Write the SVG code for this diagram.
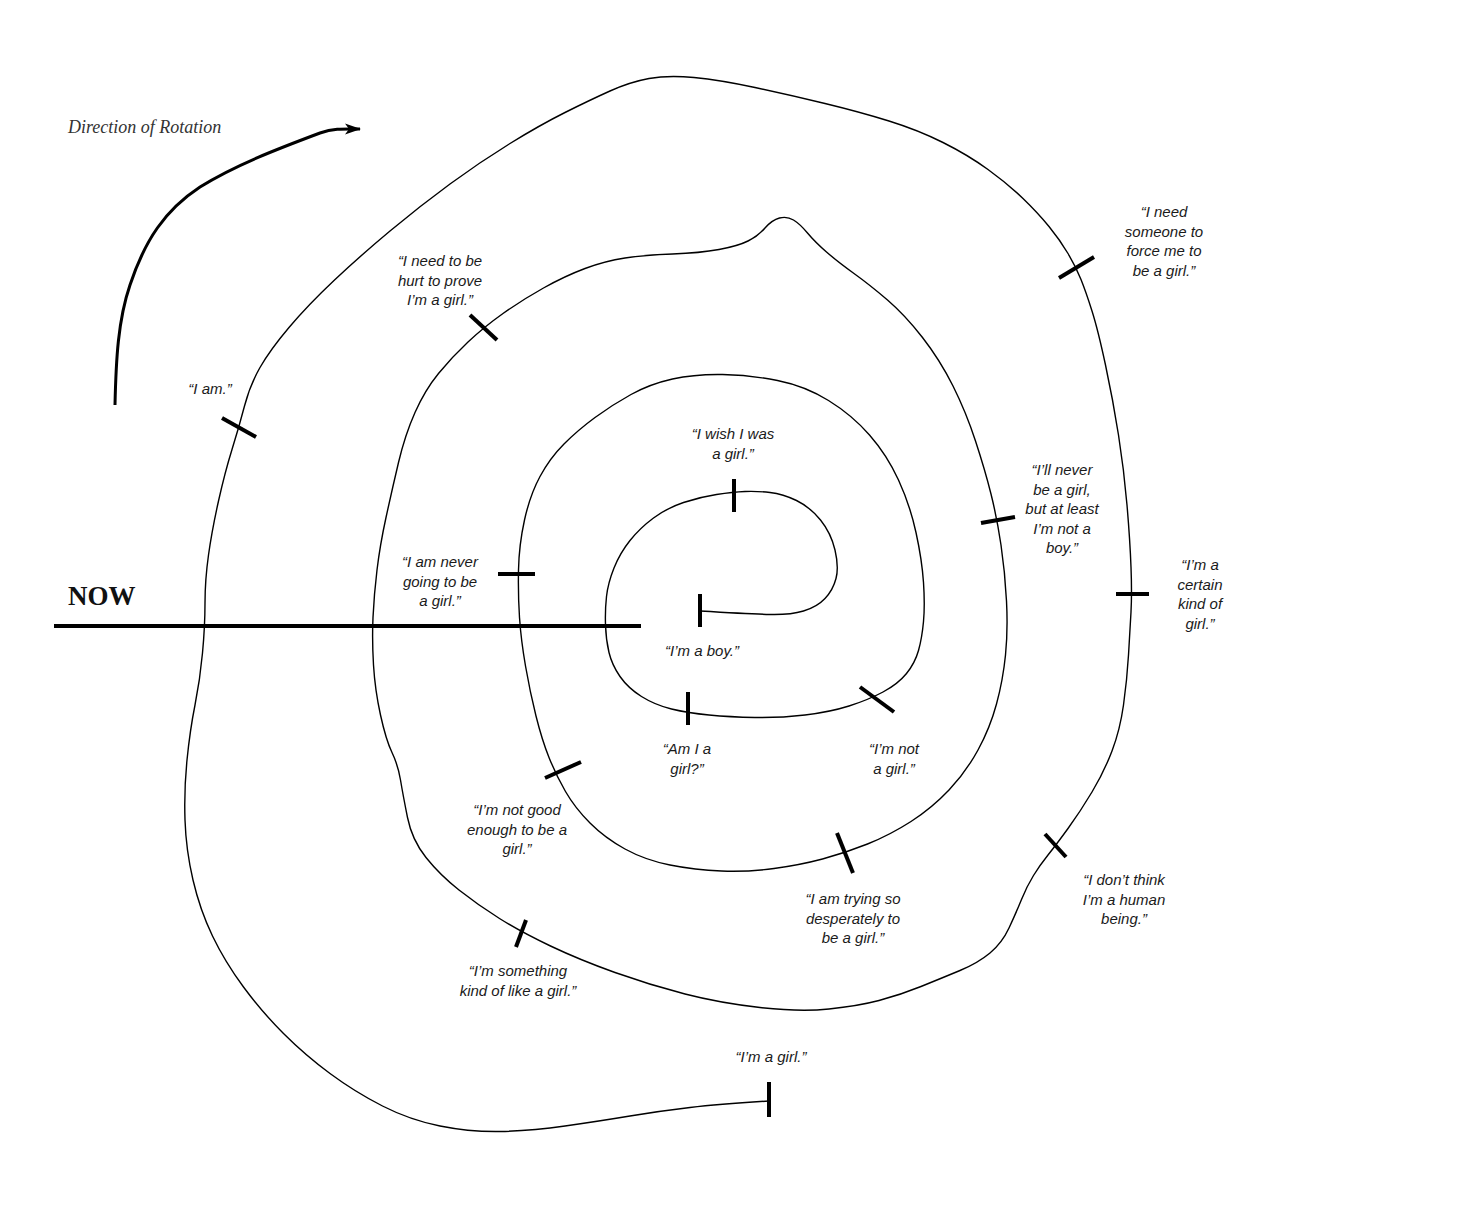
<svg xmlns="http://www.w3.org/2000/svg" width="1474" height="1222" viewBox="0 0 1474 1222">
<defs>
<style>
.lbl{font-family:"Liberation Sans",Arial,sans-serif;font-style:italic;font-size:15px;fill:#1a1a1a;text-anchor:middle}
.tick{stroke:#000;stroke-width:4;fill:none}
.spiral{stroke:#000;stroke-width:1.4;fill:none;stroke-linejoin:round;stroke-linecap:round}
</style>
<marker id="ah" viewBox="0 0 16 12" refX="15" refY="6" markerWidth="16" markerHeight="12" markerUnits="userSpaceOnUse" orient="auto">
<path d="M0,0.5 L16,6 L0,11.5 L4,6 Z" fill="#000"/>
</marker>
</defs>
<rect width="1474" height="1222" fill="#fff"/>

<g id="title">
<text x="68" y="133" font-family="'Liberation Serif','Times New Roman',serif" font-style="italic" font-size="18" fill="#333">Direction of Rotation</text>
</g>
<g id="now-label">
<text x="68" y="605" font-family="'Liberation Serif','Times New Roman',serif" font-weight="bold" font-size="27" fill="#111">NOW</text>
</g>

<g id="connectors">
<path class="spiral" d="M700,611 Q750,614 770,614.5 Q790,615 803.5,611 Q817,607 825,598.5 Q833,590 836,578.5 Q839,567 835,550 Q831,533 820.5,520 Q810,507 796.5,500.5 Q783,494 770,492.5 Q757,491 745,491.5 Q733,492 716.5,494.5 Q700,497 683.5,502.5 Q667,508 653.5,518 Q640,528 630,540.5 Q620,553 614,568 Q608,583 606.5,596.5 Q605,610 605.5,625 Q606,640 609,652.5 Q612,665 620,676.5 Q628,688 641.5,696.5 Q655,705 671.5,709 Q688,713 709,715 Q730,717 755,717.5 Q780,718 805,715 Q830,712 849,706 Q868,700 883,692 Q898,684 906.5,673.5 Q915,663 918.5,650.5 Q922,638 923.5,621.5 Q925,605 923.5,582.5 Q922,560 916,532.5 Q910,505 898.5,480 Q887,455 869.5,435 Q852,415 828.5,400.5 Q805,386 777.5,380.5 Q750,375 722.5,374.5 Q695,374 672.5,379 Q650,384 631,394.5 Q612,405 595,417.5 Q578,430 564,444 Q550,458 540,476.5 Q530,495 524.5,520 Q519,545 518.5,570 Q518,595 519.5,617.5 Q521,640 525.5,666 Q530,692 536,716 Q542,740 549,757.5 Q556,775 565.5,791.5 Q575,808 590,823 Q605,838 625,849 Q645,860 670,865 Q695,870 721.5,871 Q748,872 774,868.5 Q800,865 822.5,859 Q845,853 867.5,844 Q890,835 911,821.5 Q932,808 949,790 Q966,772 978,750 Q990,728 996.5,704 Q1003,680 1005.5,655 Q1008,630 1006.5,601 Q1005,572 1001,545 Q997,518 991,494 Q985,470 975.5,441 Q966,412 953,386 Q940,360 922.5,337.5 Q905,315 887.5,300 Q870,285 854,273.5 Q838,262 826.5,252 Q815,242 807.5,233 Q800,224 793.5,220 Q787,216 779.5,218 Q772,220 765,228 Q758,236 748,241 Q738,246 719,249.5 Q700,253 672.5,254 Q645,255 625,258 Q605,261 585,268.5 Q565,276 543.5,288 Q522,300 503,313.5 Q484,327 468,342 Q452,357 438.5,373.5 Q425,390 415,412.5 Q405,435 398.5,462.5 Q392,490 386,517.5 Q380,545 377,570 Q374,595 373,617.5 Q372,640 373.5,665 Q375,690 380.5,715 Q386,740 392,752.5 Q398,765 400.5,780 Q403,795 407.5,817.5 Q412,840 426,857.5 Q440,875 459,890 Q478,905 499.5,918.5 Q521,932 550.5,946 Q580,960 615,972.5 Q650,985 685,994 Q720,1003 760,1007.5 Q800,1012 829,1009 Q858,1006 879,1000.5 Q900,995 921,986.5 Q942,978 960,970.5 Q978,963 990,953 Q1002,943 1009,928 Q1016,913 1021.5,899.5 Q1027,886 1033.5,875.5 Q1040,865 1048,855 Q1056,845 1068,828.5 Q1080,812 1092,792 Q1104,772 1112,751 Q1120,730 1123.5,705 Q1127,680 1128.5,655 Q1130,630 1131,612 Q1132,594 1131,567 Q1130,540 1127,505 Q1124,470 1118.5,435 Q1113,400 1105.5,365 Q1098,330 1092,311 Q1086,292 1081,279.5 Q1076,267 1068,253.5 Q1060,240 1049,226.5 Q1038,213 1023,198.5 Q1008,184 988,169.5 Q968,155 943,142.5 Q918,130 889,121 Q860,112 825,103.5 Q790,95 755,87.5 Q720,80 694,77.5 Q668,75 649,78.5 Q630,82 610,91 Q590,100 565,112.5 Q540,125 510,143.5 Q480,162 450,184 Q420,206 390,231 Q360,256 334,280.5 Q308,305 289,327.5 Q270,350 260,367.5 Q250,385 244.5,406 Q239,427 232,449.5 Q225,472 218.5,501 Q212,530 208.5,555 Q205,580 205,603 Q205,626 202.5,653 Q200,680 195,705 Q190,730 187,760 Q184,790 185,820 Q186,850 193,880 Q200,910 212.5,936 Q225,962 243.5,987 Q262,1012 283.5,1033.5 Q305,1055 330,1073.5 Q355,1092 382.5,1106 Q410,1120 440,1126 Q470,1132 500,1131.5 Q530,1131 565,1126 Q600,1121 630,1116 Q660,1111 690,1107.5 Q720,1104 769,1101"/>
<line x1="54" y1="626" x2="641" y2="626" stroke="#000" stroke-width="4"/>
<path d="M115,405 C116,360 118,320 130,285 C145,240 165,210 200,187 C235,165 280,148 320,133 C335,128 345,129 360,129" fill="none" stroke="#000" stroke-width="3" marker-end="url(#ah)"/>
</g>

<g id="n-boy"><line class="tick" x1="700" y1="594" x2="700" y2="627"/><text class="lbl" x="702" y="656">“I’m a boy.”</text></g>
<g id="n-wish"><line class="tick" x1="734" y1="479" x2="734" y2="512"/><text class="lbl" x="733" y="439">“I wish I was<tspan x="733" dy="19.5">a girl.”</tspan></text></g>
<g id="n-ami"><line class="tick" x1="688" y1="692" x2="688" y2="725"/><text class="lbl" x="687" y="754">“Am I a<tspan x="687" dy="19.5">girl?”</tspan></text></g>
<g id="n-notgirl"><line class="tick" x1="860" y1="687" x2="894" y2="712"/><text class="lbl" x="894" y="754">“I’m not<tspan x="894" dy="19.5">a girl.”</tspan></text></g>
<g id="n-never"><line class="tick" x1="498" y1="574" x2="535" y2="574"/><text class="lbl" x="440" y="567">“I am never<tspan x="440" dy="19.5">going to be</tspan><tspan x="440" dy="19.5">a girl.”</tspan></text></g>
<g id="n-notgood"><line class="tick" x1="545" y1="778" x2="581" y2="762"/><text class="lbl" x="517" y="815">“I’m not good<tspan x="517" dy="19.5">enough to be a</tspan><tspan x="517" dy="19.5">girl.”</tspan></text></g>
<g id="n-trying"><line class="tick" x1="837" y1="833" x2="853" y2="873"/><text class="lbl" x="853" y="904">“I am trying so<tspan x="853" dy="19.5">desperately to</tspan><tspan x="853" dy="19.5">be a girl.”</tspan></text></g>
<g id="n-atleast"><line class="tick" x1="981" y1="523" x2="1015" y2="517"/><text class="lbl" x="1062" y="475">“I’ll never<tspan x="1062" dy="19.5">be a girl,</tspan><tspan x="1062" dy="19.5">but at least</tspan><tspan x="1062" dy="19.5">I’m not a</tspan><tspan x="1062" dy="19.5">boy.”</tspan></text></g>
<g id="n-hurt"><line class="tick" x1="470" y1="315" x2="497" y2="340"/><text class="lbl" x="440" y="266">“I need to be<tspan x="440" dy="19.5">hurt to prove</tspan><tspan x="440" dy="19.5">I’m a girl.”</tspan></text></g>
<g id="n-something"><line class="tick" x1="526" y1="920" x2="516" y2="947"/><text class="lbl" x="518" y="976">“I’m something<tspan x="518" dy="19.5">kind of like a girl.”</tspan></text></g>
<g id="n-human"><line class="tick" x1="1045" y1="834" x2="1066" y2="857"/><text class="lbl" x="1124" y="885">“I don’t think<tspan x="1124" dy="19.5">I’m a human</tspan><tspan x="1124" dy="19.5">being.”</tspan></text></g>
<g id="n-certain"><line class="tick" x1="1116" y1="594" x2="1149" y2="594"/><text class="lbl" x="1200" y="570">“I’m a<tspan x="1200" dy="19.5">certain</tspan><tspan x="1200" dy="19.5">kind of</tspan><tspan x="1200" dy="19.5">girl.”</tspan></text></g>
<g id="n-force"><line class="tick" x1="1059" y1="278" x2="1094" y2="257"/><text class="lbl" x="1164" y="217">“I need<tspan x="1164" dy="19.5">someone to</tspan><tspan x="1164" dy="19.5">force me to</tspan><tspan x="1164" dy="19.5">be a girl.”</tspan></text></g>
<g id="n-iam"><line class="tick" x1="222" y1="418" x2="256" y2="437"/><text class="lbl" x="210" y="394">“I am.”</text></g>
<g id="n-girl"><line class="tick" x1="769" y1="1082" x2="769" y2="1117"/><text class="lbl" x="771" y="1062">“I’m a girl.”</text></g>
</svg>
